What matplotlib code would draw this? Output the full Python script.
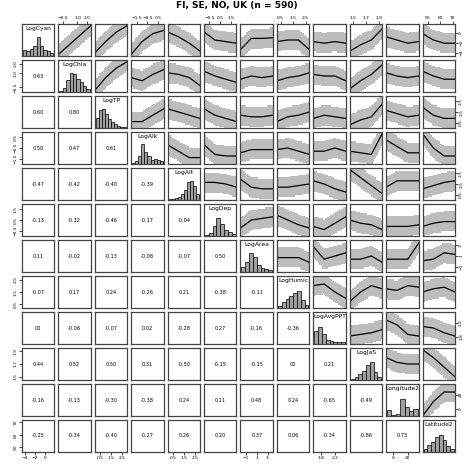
import matplotlib
matplotlib.use("Agg")
import matplotlib.pyplot as plt
import numpy as np

names = ["LogCyan", "LogChla", "LogTP", "LogAlk", "LogAlt", "LogDep", "LogArea",
         "LogHumic", "LogAvgPPT", "LogJaS", "Longitude2", "Latitude2"]
ranges = [(-4.6, 1.8), (-1.0, 2.4), (0.0, 3.0), (-2.0, 1.0), (0.0, 3.0), (-1.0, 2.0),
          (-2.0, 4.0), (0.2, 2.8), (1.6, 2.5), (1.45, 1.95), (-10, 35), (46, 72)]
ticks = [[-4, -2, 0], [-0.5, 1.0, 2.0], [0.5, 1.5, 2.5], [-1.5, -0.5, 0.5], [0.5, 1.5, 2.5],
         [-0.5, 0.5, 1.5], [-1, 1, 3], [0.5, 1.5, 2.5], [1.8, 2.2], [1.5, 1.7, 1.9], [0, 20],
         [50, 60, 70]]

# lower triangle correlations (row i, cols 0..i-1)
corr = [
    [],
    ["0.63"],
    ["0.60", "0.80"],
    ["0.50", "0.47", "0.61"],
    ["-0.47", "-0.42", "-0.40", "-0.39"],
    ["-0.13", "-0.32", "-0.46", "-0.17", "-0.04"],
    ["0.11", "-0.02", "-0.13", "-0.08", "-0.07", "0.50"],
    ["-0.07", "0.17", "0.24", "-0.26", "0.21", "-0.38", "-0.11"],
    ["00", "-0.06", "-0.07", "0.02", "-0.28", "0.27", "-0.16", "-0.36"],
    ["0.44", "0.52", "0.50", "0.31", "-0.50", "-0.15", "-0.15", "00", "0.21"],
    ["-0.16", "-0.13", "-0.30", "-0.38", "0.24", "0.11", "0.48", "0.24", "-0.65", "-0.49"],
    ["-0.25", "-0.34", "-0.40", "-0.27", "0.26", "0.20", "0.37", "0.06", "-0.34", "-0.86", "0.73"],
]

# histogram heights (relative)
hists = [
    [0.3, 0.25, 0.35, 0.5, 0.9, 0.5, 0.3, 0.25, 0.15],
    [0.05, 0.2, 0.6, 0.9, 0.85, 0.65, 0.5, 0.3, 0.15],
    [0.5, 0.85, 0.9, 0.7, 0.45, 0.3, 0.2, 0.1, 0.05, 0.03],
    [0.05, 0.15, 0.4, 0.95, 0.6, 0.4, 0.2, 0.25, 0.2, 0.15],
    [0.03, 0.05, 0.1, 0.15, 0.3, 0.5, 0.85, 0.9, 0.7, 0.3],
    [0.05, 0.15, 0.5, 0.85, 0.6, 0.3, 0.2, 0.1],
    [0.25, 0.5, 0.9, 0.75, 0.35, 0.2, 0.15, 0.1],
    [0.1, 0.3, 0.45, 0.6, 0.75, 0.8, 0.4, 0.15],
    [0.65, 0.8, 0.5, 0.2, 0.15, 0.1, 0.1, 0.08],
    [0.03, 0.15, 0.3, 0.45, 0.75, 0.85, 0.4, 0.15],
    [0.3, 0.05, 0.1, 0.8, 0.45, 0.25, 0.35],
    [0.15, 0.35, 0.5, 0.75, 0.8, 0.6, 0.3, 0.15],
]

# smoother heights (fraction of y-range) at x fractions 0, 1/3, 2/3, 1 ; key (row, col)
smooth = {
    (0, 1): [0.05, 0.35, 0.65, 0.95], (0, 2): [0.1, 0.45, 0.75, 0.95], (0, 3): [0.05, 0.45, 0.7, 0.8],
    (0, 4): [0.75, 0.6, 0.4, 0.15], (0, 5): [0.75, 0.5, 0.45, 0.4], (0, 6): [0.2, 0.55, 0.55, 0.57],
    (0, 7): [0.45, 0.5, 0.5, 0.2], (0, 8): [0.45, 0.4, 0.45, 0.4], (0, 9): [0.15, 0.35, 0.5, 0.85],
    (0, 10): [0.6, 0.5, 0.4, 0.45], (0, 11): [0.7, 0.5, 0.4, 0.4],
    (1, 2): [0.05, 0.45, 0.75, 0.95], (1, 3): [0.45, 0.35, 0.55, 0.7], (1, 4): [0.6, 0.55, 0.45, 0.2],
    (1, 5): [0.65, 0.5, 0.4, 0.3], (1, 6): [0.4, 0.5, 0.45, 0.5], (1, 7): [0.35, 0.45, 0.5, 0.6],
    (1, 8): [0.55, 0.5, 0.5, 0.35], (1, 9): [0.1, 0.35, 0.55, 0.85], (1, 10): [0.6, 0.5, 0.45, 0.5],
    (1, 11): [0.65, 0.5, 0.4, 0.4],
    (2, 3): [0.2, 0.2, 0.4, 0.6], (2, 4): [0.6, 0.5, 0.4, 0.3], (2, 5): [0.6, 0.4, 0.3, 0.2],
    (2, 6): [0.4, 0.35, 0.35, 0.4], (2, 7): [0.2, 0.35, 0.4, 0.5], (2, 8): [0.3, 0.4, 0.35, 0.3],
    (2, 9): [0.1, 0.25, 0.35, 0.75], (2, 10): [0.55, 0.45, 0.35, 0.4], (2, 11): [0.65, 0.4, 0.3, 0.3],
    (3, 4): [0.6, 0.4, 0.2, 0.2], (3, 5): [0.6, 0.3, 0.25, 0.25], (3, 6): [0.35, 0.45, 0.45, 0.45],
    (3, 7): [0.45, 0.5, 0.4, 0.3], (3, 8): [0.4, 0.4, 0.5, 0.4], (3, 9): [0.4, 0.35, 0.3, 0.95],
    (3, 10): [0.75, 0.55, 0.35, 0.35], (3, 11): [0.95, 0.5, 0.25, 0.25],
    (4, 5): [0.55, 0.55, 0.5, 0.4], (4, 6): [0.65, 0.4, 0.35, 0.35], (4, 7): [0.4, 0.4, 0.45, 0.5],
    (4, 8): [0.6, 0.5, 0.35, 0.25], (4, 9): [0.95, 0.7, 0.45, 0.2], (4, 10): [0.4, 0.6, 0.6, 0.6],
    (4, 11): [0.35, 0.45, 0.55, 0.6],
    (5, 6): [0.25, 0.5, 0.55, 0.6], (5, 7): [0.65, 0.5, 0.35, 0.25], (5, 8): [0.3, 0.2, 0.4, 0.6],
    (5, 9): [0.5, 0.4, 0.35, 0.2], (5, 10): [0.3, 0.3, 0.3, 0.35], (5, 11): [0.3, 0.4, 0.45, 0.45],
    (6, 7): [0.45, 0.45, 0.45, 0.3], (6, 8): [0.8, 0.4, 0.5, 0.6], (6, 9): [0.4, 0.4, 0.5, 0.3],
    (6, 10): [0.4, 0.4, 0.4, 0.9], (6, 11): [0.35, 0.4, 0.6, 0.55],
    (7, 8): [0.7, 0.75, 0.5, 0.3], (7, 9): [0.2, 0.5, 0.7, 0.6], (7, 10): [0.6, 0.55, 0.7, 0.65],
    (7, 11): [0.5, 0.6, 0.65, 0.5],
    (8, 9): [0.25, 0.3, 0.35, 0.45], (8, 10): [0.75, 0.6, 0.3, 0.25], (8, 11): [0.55, 0.5, 0.35, 0.25],
    (9, 10): [0.7, 0.55, 0.5, 0.5], (9, 11): [0.95, 0.7, 0.4, 0.1],
    (10, 11): [0.0, 0.45, 0.75, 0.75],
}

n = len(names)
fig = plt.figure(figsize=(4.74, 4.74), dpi=100)
left, right, top, bottom = 22 / 474, 455 / 474, 1 - 24 / 474, 1 - 452 / 474
gap = 4 / 474
w = (right - left - gap * (n - 1)) / n
h = (top - bottom - gap * (n - 1)) / n

# staggered lattice used to texture the point clouds
gx, gy = np.meshgrid(np.linspace(0.02, 0.98, 26), np.linspace(0.02, 0.98, 26))
gx = (gx + (np.arange(26)[:, None] % 2) * 0.018).ravel()
gy = gy.ravel()

for i in range(n):
    for j in range(n):
        ax = fig.add_axes([left + j * (w + gap), top - (i + 1) * h - i * gap, w, h])
        xlo, xhi = ranges[j]
        ylo, yhi = ranges[i]
        ax.set_xlim(xlo, xhi)
        if i == j:
            hv = hists[i]
            edges = np.linspace(xlo + 0.03 * (xhi - xlo), xhi - 0.03 * (xhi - xlo), len(hv) + 1)
            ax.bar(edges[:-1], hv, width=np.diff(edges), align="edge",
                   color="#a0a0a0", edgecolor="black", linewidth=0.5)
            ax.set_ylim(0, 1.55)
            ax.text(0.5, 0.86, names[i], transform=ax.transAxes, ha="center", va="center", fontsize=4.3)
        elif i > j:
            ax.set_ylim(ylo, yhi)
            ax.text(0.5, 0.5, corr[i][j], transform=ax.transAxes, ha="center", va="center", fontsize=3.6)
        else:
            ax.set_ylim(ylo, yhi)
            sv = np.array(smooth[(i, j)])
            xf = np.linspace(0, 1, len(sv))
            line = np.interp(gx, xf, sv)
            mask = np.abs(gy - line) < 0.3
            ax.scatter(xlo + gx[mask] * (xhi - xlo), ylo + gy[mask] * (yhi - ylo),
                       s=1.6, c="#bdbdbd", marker="s", linewidths=0)
            ax.plot(xlo + xf * (xhi - xlo), ylo + sv * (yhi - ylo), color="black", linewidth=0.9)
        for s in ax.spines.values():
            s.set_linewidth(0.9)
            s.set_color("#444444")
        ax.tick_params(length=2, width=0.5, labelsize=3.2, pad=1)
        ax.set_xticks([])
        ax.set_yticks([])
        if i == 0 and j % 2 == 1:
            ax.xaxis.tick_top()
            ax.set_xticks(ticks[j])
        if i == n - 1 and j % 2 == 0:
            ax.set_xticks(ticks[j])
        if j == 0 and i % 2 == 1:
            ax.set_yticks(ticks[i])
            plt.setp(ax.get_yticklabels(), rotation=90, va="center")
        if j == n - 1 and i % 2 == 0:
            ax.yaxis.tick_right()
            ax.set_yticks(ticks[i])
            plt.setp(ax.get_yticklabels(), rotation=90, va="center")

fig.text(0.5, 0.997, "FI, SE, NO, UK (n = 590)", ha="center", va="top", fontsize=6.5, fontweight="bold")
fig.savefig("out.png", dpi=100)
